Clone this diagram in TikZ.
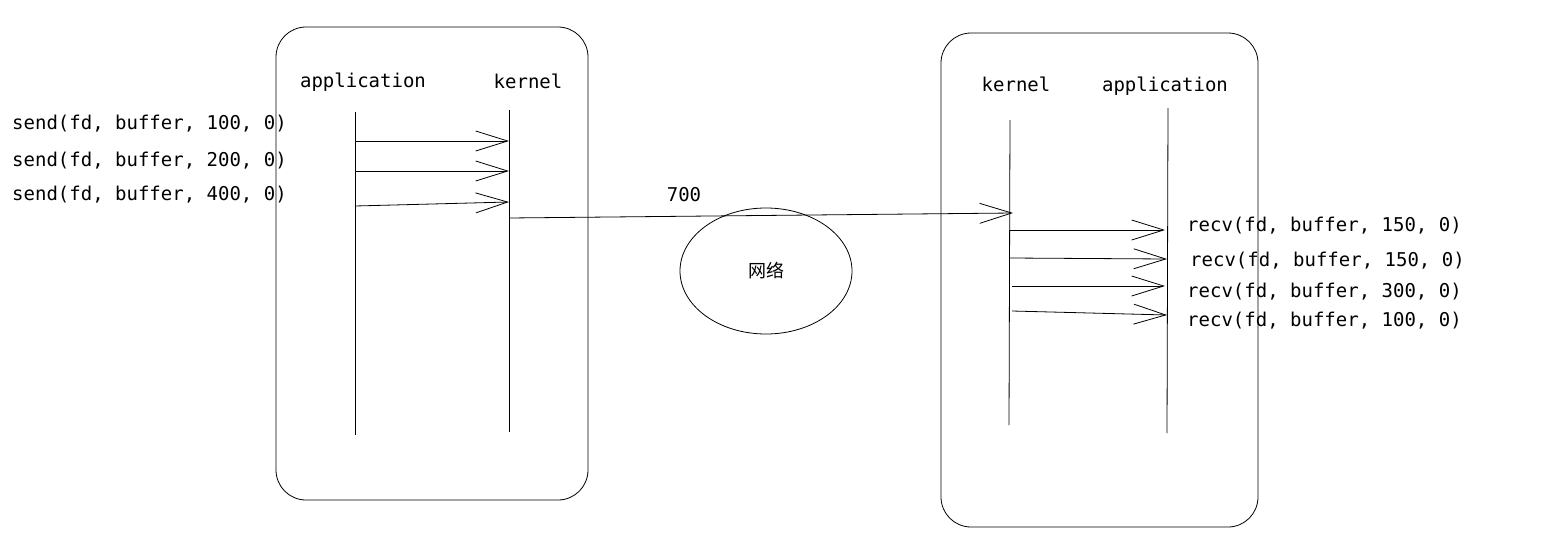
\documentclass[tikz,border=0pt]{standalone}
\usepackage{fontspec}
\setmonofont{DejaVu Sans Mono}
\newfontfamily\cjk{Noto Sans CJK SC}
\usetikzlibrary{arrows.meta,shapes.geometric}
\begin{document}
\begin{tikzpicture}[x=1pt,y=-1pt,
  lbl/.style={font=\ttfamily\fontsize{19}{22}\selectfont,inner sep=0pt},
  arr/.style={-{Straight Barb[length=32pt,width=20pt,line width=0.8pt]},line width=0.8pt},
  ln/.style={line width=0.8pt},
  boxst/.style={draw,line width=0.8pt,rounded corners=30pt}]
\useasboundingbox (0,0) rectangle (1545,549);
\draw[boxst] (276,27) rectangle (588,500);
\draw[boxst] (941,33) rectangle (1258,527);
\node[lbl] (la) at (363,82) {application};
\node[lbl] (lk) at (528,81) {kernel};
\node[lbl] (rk) at (1016,84) {kernel};
\node[lbl] (ra) at (1165,86) {application};
\coordinate (la1) at (355,112); \coordinate (la2) at (355,435);
\coordinate (lk1) at (509,110); \coordinate (lk2) at (509,432);
\coordinate (rk1) at (1010,120); \coordinate (rk2) at (1009,425);
\coordinate (ra1) at (1168,108); \coordinate (ra2) at (1167,433);
\draw[ln] (la1) -- (la2); \draw[ln] (lk1) -- (lk2);
\draw[ln] (rk1) -- (rk2); \draw[ln] (ra1) -- (ra2);
\node[lbl,anchor=west] (s1) at (12,124) {send(fd, buffer, 100, 0)};
\node[lbl,anchor=west] (s2) at (12,161) {send(fd, buffer, 200, 0)};
\node[lbl,anchor=west] (s3) at (12,195) {send(fd, buffer, 400, 0)};
\coordinate (a1s) at (355,141); \coordinate (a1e) at (509,141);
\coordinate (a2s) at (355,171); \coordinate (a2e) at (509,171);
\coordinate (a3s) at (355,206); \coordinate (a3e) at (509,202);
\draw[arr] (a1s) -- (a1e); \draw[arr] (a2s) -- (a2e); \draw[arr] (a3s) -- (a3e);
\coordinate (ns) at (509,218); \coordinate (ne) at (1013,213);
\draw[arr] (ns) -- (ne);
\node[lbl] (n700) at (684,195) {700};
\node[draw,ellipse,line width=0.8pt,minimum width=172pt,minimum height=126pt,inner sep=0pt,font=\cjk\fontsize{18}{20}\selectfont] (net) at (766,271) {网络};
\coordinate (b1s) at (1010,230); \coordinate (b1e) at (1165,230);
\coordinate (b2s) at (1010,258); \coordinate (b2e) at (1167,259);
\coordinate (b3s) at (1012,286); \coordinate (b3e) at (1165,286);
\coordinate (b4s) at (1012,311); \coordinate (b4e) at (1167,315);
\draw[arr] (b1s) -- (b1e); \draw[arr] (b2s) -- (b2e);
\draw[arr] (b3s) -- (b3e); \draw[arr] (b4s) -- (b4e);
\node[lbl,anchor=west] (r1) at (1187,226) {recv(fd, buffer, 150, 0)};
\node[lbl,anchor=west] (r2) at (1190,261) {recv(fd, buffer, 150, 0)};
\node[lbl,anchor=west] (r3) at (1187,292) {recv(fd, buffer, 300, 0)};
\node[lbl,anchor=west] (r4) at (1187,321) {recv(fd, buffer, 100, 0)};
\end{tikzpicture}
\end{document}
